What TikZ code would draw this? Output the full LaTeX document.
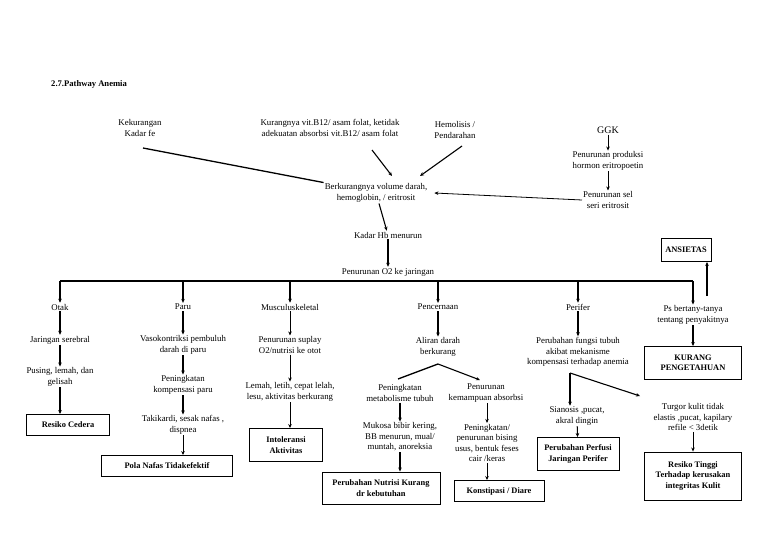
\documentclass[tikz,border=0pt]{standalone}
\usepackage{fontspec}
\setmainfont{Liberation Serif}
\usetikzlibrary{arrows.meta}
\begin{document}
\begin{tikzpicture}[x=1pt,y=-1pt,
  t/.style={align=center,font=\fontsize{8.8}{10.5}\selectfont,inner sep=1pt},
  bx/.style={t,draw,line width=0.9pt,font=\fontsize{8.4}{10.5}\selectfont\bfseries,minimum height=21pt},
  ar/.style={-{Stealth[length=4pt,width=3.5pt]},line width=1.1pt},
  ln/.style={line width=1.3pt}]
\useasboundingbox (0,0) rectangle (768,543);
\node[t,anchor=west,font=\fontsize{8.6}{10}\selectfont\bfseries] (title) at (50,84) {2.7.Pathway Anemia};
\node[t] (kek) at (140,128) {Kekurangan\\Kadar fe};
\node[t] (kur) at (330,128) {Kurangnya vit.B12/ asam folat, ketidak\\adekuatan absorbsi vit.B12/ asam folat};
\node[t] (hem) at (455,130) {Hemolisis /\\Pendarahan};
\node[t,font=\fontsize{10}{11}\selectfont] (ggk) at (608,130) {GGK};
\node[t] (prod) at (608,161) {Penurunan produksi\\hormon eritropoetin};
\node[t] (sel) at (608,200) {Penurunan sel\\seri eritrosit};
\node[t] (ber) at (376,193) {Berkurangnya volume darah,\\hemoglobin, / eritrosit};
\node[t] (hb) at (388,235) {Kadar Hb menurun};
\node[t] (o2) at (388,272) {Penurunan O2 ke jaringan};
\node[bx,minimum width=50pt,minimum height=23pt] (ans) at (686,250) {ANSIETAS};
\coordinate (kekE) at (143,148);
\coordinate (kurE) at (372,150);
\coordinate (hemE) at (462,146);
\draw[ln] (kekE) -- (ber.north west);
\draw[ar] (kurE) -- (392,176);
\draw[ar] (hemE) -- (420,176);
\draw[ar,line width=0.8pt] (ggk) -- (prod);
\draw[ar,line width=0.8pt] (prod) -- (sel);
\draw[ar,line width=0.8pt] (sel.west) -- ([xshift=6pt]ber.east);
\draw[ar] (ber) -- (hb);
\draw[ar] (hb) -- (o2);
% bar
\coordinate (b1) at (60,281); \coordinate (b2) at (183,281); \coordinate (b3) at (290,281);
\coordinate (b4) at (438,281); \coordinate (b5) at (578,281); \coordinate (b6) at (693,281);
\draw[ln] (b1) -- (b6);
\node[t] (otak) at (60,307) {Otak};
\node[t] (paru) at (183,307) {Paru};
\node[t] (musc) at (290,307) {Musculuskeletal};
\node[t] (penc) at (438,307) {Pencernaan};
\node[t] (perif) at (578,307) {Perifer};
\node[t] (ps) at (693,315) {Ps bertany-tanya\\tentang penyakitnya};
\foreach \b/\n in {b1/otak,b2/paru,b3/musc,b4/penc,b5/perif,b6/ps} \draw[ar] (\b) -- (\n);
\draw[ar] (707,296) -- (ans.south -| 707,0);
% Otak
\node[t] (jar) at (60,340) {Jaringan serebral};
\node[t] (pus) at (60,377) {Pusing, lemah, dan\\gelisah};
\node[bx,minimum width=83pt] (rc) at (68,425) {Resiko Cedera};
\draw[ar] (otak) -- (jar); \draw[ar] (jar) -- (pus); \draw[ar] (pus) -- (rc.north -| pus);
% Paru
\node[t] (vaso) at (183,345) {Vasokontriksi pembuluh\\darah di paru};
\node[t] (pkp) at (183,385) {Peningkatan\\kompensasi paru};
\node[t] (tak) at (183,425) {Takikardi, sesak nafas ,\\dispnea};
\node[bx,minimum width=131pt] (pola) at (167,466) {Pola Nafas Tidakefektif};
\draw[ar] (paru) -- (vaso); \draw[ar] (vaso) -- (pkp); \draw[ar] (pkp) -- (tak); \draw[ar,line width=0.7pt] (tak) -- (pola.north -| tak);
% Musc
\node[t] (sup) at (290,345) {Penurunan suplay\\O2/nutrisi ke otot};
\node[t] (lem) at (290,392) {Lemah, letih, cepat lelah,\\lesu, aktivitas berkurang};
\node[bx,minimum width=73pt,minimum height=33pt] (int) at (286,445) {Intoleransi\\Aktivitas};
\draw[ar,line width=0.7pt] (musc) -- (sup); \draw[ar,line width=0.7pt] (sup) -- (lem); \draw[ar,line width=0.7pt] (lem) -- (int.north -| lem);
% Pencernaan
\node[t] (ali) at (438,347) {Aliran darah\\berkurang};
\node[t] (pmet) at (400,393) {Peningkatan\\metabolisme tubuh};
\node[t] (pkem) at (486,393) {Penurunan\\kemampuan absorbsi};
\node[t] (muk) at (400,437) {Mukosa bibir kering,\\BB menurun, mual/\\muntah, anoreksia};
\node[t] (bis) at (487,443) {Peningkatan/\\penurunan bising\\usus, bentuk feses\\cair /keras};
\node[bx,minimum width=118pt,minimum height=32pt] (nut) at (381,488) {Perubahan Nutrisi Kurang\\dr kebutuhan};
\node[bx,minimum width=90pt] (kon) at (499,491) {Konstipasi / Diare};
\coordinate (cp) at (438,364);
\draw[ar] (penc) -- (ali);
\draw[ln] (cp) -- (398,379);
\draw[ar] (cp) -- (480,380);
\draw[ar] (pmet) -- (muk);
\draw[ar,line width=0.7pt] (pkem.south -| 487,0) -- (bis.north -| 487,0);
\draw[ar] (muk) -- (nut.north -| muk);
\draw[ar,line width=0.7pt] (bis.south -| 487,0) -- (kon.north -| 487,0);
% Perifer
\node[t] (fung) at (578,352) {Perubahan fungsi tubuh\\akibat mekanisme\\kompensasi terhadap anemia};
\node[t] (sia) at (577,416) {Sianosis ,pucat,\\akral dingin};
\node[t] (tur) at (693,417) {Turgor kulit tidak\\elastis ,pucat, kapilary\\refile < 3detik};
\node[bx,minimum width=82pt,minimum height=33pt] (pp) at (578,454) {Perubahan Perfusi\\Jaringan Perifer};
\node[bx,minimum width=97pt,minimum height=48pt] (rt) at (693,476) {Resiko Tinggi\\Terhadap kerusakan\\integritas Kulit};
\coordinate (cf) at (570,373);
\draw[ar] (perif) -- (fung);
\draw[ar] (cf) -- (sia.north -| cf);
\draw[ar] (cf) -- (640,396);
\draw[ar] (sia) -- (pp);
\draw[ar,line width=0.7pt] (tur) -- (rt);
% Ps
\node[bx,minimum width=97pt,minimum height=33pt] (kp) at (693,363) {KURANG\\PENGETAHUAN};
\draw[ar] (ps) -- (kp);
\end{tikzpicture}
\end{document}
